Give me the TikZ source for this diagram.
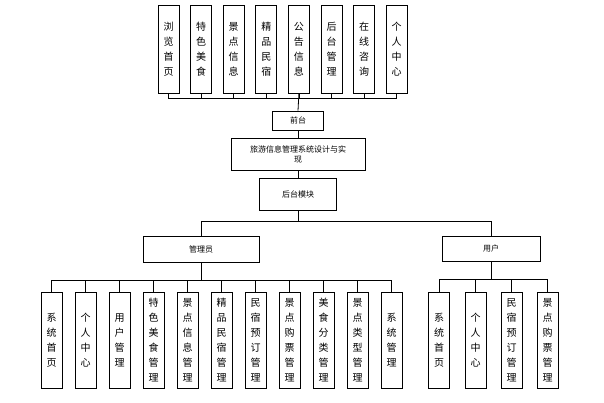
\documentclass[tikz,border=0pt]{standalone}
\usepackage{fontspec}
\setmainfont{Noto Sans CJK SC}
\begin{document}
\begin{tikzpicture}[x=1pt,y=-1pt,
 hbox/.style={draw,line width=0.9pt,font=\fontsize{8}{10}\selectfont,align=center,inner sep=0pt},
 vbox/.style={draw,line width=0.9pt,minimum width=21pt,font=\fontsize{10}{15}\selectfont,align=center,inner sep=0pt},
 ln/.style={line width=0.8pt}]
\useasboundingbox (0,0) rectangle (604,402);
% top row
\foreach \i/\t in {0/浏\\览\\首\\页,1/特\\色\\美\\食,2/景\\点\\信\\息,3/精\\品\\民\\宿,4/公\\告\\信\\息,5/后\\台\\管\\理,6/在\\线\\咨\\询,7/个\\人\\中\\心}{
  \node[vbox,minimum height=88pt] (t\i) at ({168.5+32.6*\i},49) {\t};
}
\node[hbox,minimum width=51pt,minimum height=19pt] (qt) at (298,120.5) {前台};
\node[hbox,text width=134pt,minimum height=32pt] (sys) at (298,154) {旅游信息管理系统设计与实\\现};
\node[hbox,minimum width=77pt,minimum height=32pt] (ht) at (298,194) {后台模块};
\node[hbox,minimum width=116pt,minimum height=26pt] (adm) at (201,249) {管理员};
\node[hbox,minimum width=98pt,minimum height=25pt] (usr) at (491,248.5) {用户};
\coordinate (bt) at (298,98);
\foreach \i in {0,...,7}{\draw[ln] (t\i.south) |- (bt);}
\draw[ln] (t4.south) -- (qt.north);
\draw[ln] (qt) -- (sys);
\draw[ln] (sys) -- (ht);
\coordinate (hb) at (298,221);
\draw[ln] (ht.south) -- (hb);
\draw[ln] (hb) -| (adm.north);
\draw[ln] (hb) -| (usr.north);
% admin children
\foreach \i/\t in {0/系\\统\\首\\页,1/个\\人\\中\\心,2/用\\户\\管\\理,3/特\\色\\美\\食\\管\\理,4/景\\点\\信\\息\\管\\理,5/精\\品\\民\\宿\\管\\理,6/民\\宿\\预\\订\\管\\理,7/景\\点\\购\\票\\管\\理,8/美\\食\\分\\类\\管\\理,9/景\\点\\类\\型\\管\\理,10/系\\统\\管\\理}{
  \node[vbox,minimum height=96pt] (a\i) at ({51.5+34*\i},340) {\t};
  \draw[ln] (a\i.north) -- ({51.5+34*\i},280) -- (adm.south |- 0,280);
}
\draw[ln] (adm.south) -- (adm.south |- 0,280);
% user children
\foreach \i/\x/\t in {0/439/系\\统\\首\\页,1/475.5/个\\人\\中\\心,2/511.5/民\\宿\\预\\订\\管\\理,3/547.5/景\\点\\购\\票\\管\\理}{
  \node[vbox,minimum height=96pt] (u\i) at (\x,340) {\t};
  \draw[ln] (u\i.north) -- (\x,279) -- (491,279);
}
\draw[ln] (usr.south) -- (491,279);
\end{tikzpicture}
\end{document}
